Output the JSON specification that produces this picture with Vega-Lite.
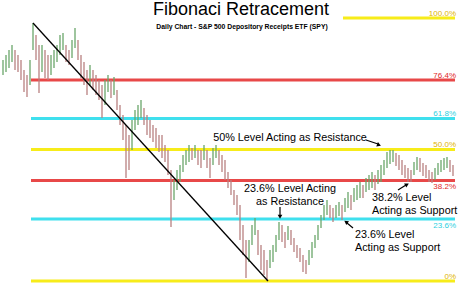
{
"$schema":"https://vega.github.io/schema/vega-lite/v6.json",
"width":460,"height":295,"padding":0,"autosize":{"type":"none"},
"background":"white",
"config":{"view":{"stroke":null},"text":{"font":"Liberation Sans"}},
"datasets":{
"bars":[
{"d":3,"p":143.3,"p2":138.8,"dir":"up"},{"d":6,"p":144.8,"p2":139.7,"dir":"up"},{"d":9,"p":146.3,"p2":140.9,"dir":"up"},{"d":12,"p":147.8,"p2":142.7,"dir":"up"},{"d":15,"p":146.3,"p2":140.3,"dir":"down"},{"d":18,"p":144.8,"p2":139.7,"dir":"down"},{"d":21,"p":143.3,"p2":137.3,"dir":"down"},{"d":24,"p":140.3,"p2":133.7,"dir":"down"},{"d":27,"p":138.8,"p2":132.2,"dir":"down"},{"d":30,"p":143.3,"p2":135.8,"dir":"up"},
{"d":33,"p":154.4,"p2":146.3,"dir":"up"},{"d":36,"p":150.8,"p2":143.3,"dir":"down"},{"d":39,"p":147.8,"p2":133.4,"dir":"down"},{"d":42,"p":147.8,"p2":139.7,"dir":"up"},{"d":45,"p":146.3,"p2":137.9,"dir":"down"},{"d":48,"p":144.8,"p2":137.3,"dir":"down"},{"d":51,"p":144.8,"p2":138.8,"dir":"up"},{"d":54,"p":146.3,"p2":140.9,"dir":"up"},{"d":57,"p":147.8,"p2":142.7,"dir":"up"},{"d":60,"p":150.8,"p2":144.8,"dir":"up"},
{"d":63,"p":151.4,"p2":146.3,"dir":"up"},{"d":66,"p":147.8,"p2":142.7,"dir":"down"},{"d":69,"p":146.3,"p2":141.8,"dir":"down"},{"d":72,"p":149.3,"p2":143.9,"dir":"up"},{"d":75,"p":152.9,"p2":146.9,"dir":"up"},{"d":78,"p":149.3,"p2":143.3,"dir":"down"},{"d":81,"p":144.8,"p2":137.9,"dir":"down"},{"d":84,"p":142.7,"p2":135.8,"dir":"down"},{"d":87,"p":140.3,"p2":132.8,"dir":"down"},{"d":90,"p":141.8,"p2":135.8,"dir":"up"},
{"d":93,"p":140.3,"p2":134.3,"dir":"down"},{"d":96,"p":138.8,"p2":132.8,"dir":"down"},{"d":99,"p":137.3,"p2":131.3,"dir":"down"},{"d":102,"p":135.8,"p2":125.9,"dir":"down"},{"d":105,"p":137.3,"p2":129.8,"dir":"up"},{"d":108,"p":138.8,"p2":133.7,"dir":"up"},{"d":111,"p":137.3,"p2":131.9,"dir":"down"},{"d":114,"p":138.2,"p2":132.8,"dir":"up"},{"d":117,"p":134.3,"p2":128.3,"dir":"down"},{"d":120,"p":129.8,"p2":123.8,"dir":"down"},
{"d":123,"p":126.8,"p2":119.3,"dir":"down"},{"d":126,"p":123.8,"p2":107.9,"dir":"down"},{"d":129,"p":120.8,"p2":110.3,"dir":"down"},{"d":132,"p":125.3,"p2":116.3,"dir":"up"},{"d":135,"p":128.3,"p2":122.3,"dir":"up"},{"d":138,"p":129.8,"p2":123.8,"dir":"up"},{"d":141,"p":131.3,"p2":125.9,"dir":"up"},{"d":144,"p":128.9,"p2":123.8,"dir":"down"},{"d":147,"p":126.8,"p2":120.8,"dir":"down"},{"d":150,"p":125.3,"p2":119.9,"dir":"down"},
{"d":153,"p":123.8,"p2":118.7,"dir":"down"},{"d":156,"p":122.9,"p2":116.9,"dir":"down"},{"d":159,"p":120.8,"p2":115.7,"dir":"down"},{"d":162,"p":120.8,"p2":113.9,"dir":"down"},{"d":165,"p":117.8,"p2":112.7,"dir":"down"},{"d":168,"p":116.3,"p2":108.8,"dir":"down"},{"d":171,"p":110.3,"p2":93.2,"dir":"down"},{"d":174,"p":107.3,"p2":101.3,"dir":"up"},{"d":177,"p":110.3,"p2":104.3,"dir":"up"},{"d":180,"p":111.8,"p2":106.7,"dir":"up"},
{"d":183,"p":114.8,"p2":109.7,"dir":"up"},{"d":186,"p":116.3,"p2":111.8,"dir":"up"},{"d":189,"p":117.8,"p2":112.7,"dir":"up"},{"d":192,"p":116.9,"p2":113.3,"dir":"down"},{"d":195,"p":117.8,"p2":113.9,"dir":"up"},{"d":198,"p":116.3,"p2":111.8,"dir":"down"},{"d":201,"p":116.3,"p2":110.9,"dir":"down"},{"d":204,"p":117.8,"p2":113.3,"dir":"up"},{"d":207,"p":116.3,"p2":110.9,"dir":"down"},{"d":210,"p":113.9,"p2":107.9,"dir":"down"},
{"d":213,"p":116.9,"p2":111.8,"dir":"up"},{"d":216,"p":117.8,"p2":113.9,"dir":"up"},{"d":219,"p":116.3,"p2":111.8,"dir":"down"},{"d":222,"p":114.8,"p2":109.7,"dir":"down"},{"d":225,"p":113.3,"p2":107.3,"dir":"down"},{"d":228,"p":109.7,"p2":104.9,"dir":"down"},{"d":231,"p":107.3,"p2":102.8,"dir":"down"},{"d":234,"p":104.3,"p2":99.8,"dir":"down"},{"d":237,"p":102.8,"p2":96.8,"dir":"down"},{"d":240,"p":99.8,"p2":89.3,"dir":"down"},
{"d":243,"p":93.8,"p2":84.8,"dir":"down"},{"d":246,"p":89.3,"p2":77.9,"dir":"down"},{"d":249,"p":89.3,"p2":82.7,"dir":"up"},{"d":252,"p":93.8,"p2":87.8,"dir":"up"},{"d":255,"p":95.9,"p2":90.8,"dir":"up"},{"d":258,"p":92.3,"p2":84.8,"dir":"down"},{"d":261,"p":87.8,"p2":80.3,"dir":"down"},{"d":264,"p":86.3,"p2":78.8,"dir":"down"},{"d":267,"p":83.3,"p2":77.0,"dir":"down"},{"d":270,"p":86.3,"p2":80.9,"dir":"up"},
{"d":273,"p":87.8,"p2":82.7,"dir":"up"},{"d":276,"p":90.8,"p2":85.7,"dir":"up"},{"d":279,"p":94.7,"p2":89.3,"dir":"up"},{"d":282,"p":93.8,"p2":88.7,"dir":"down"},{"d":285,"p":91.7,"p2":86.9,"dir":"down"},{"d":288,"p":93.5,"p2":89.3,"dir":"up"},{"d":291,"p":92.3,"p2":87.8,"dir":"down"},{"d":294,"p":89.9,"p2":85.7,"dir":"down"},{"d":297,"p":87.8,"p2":83.9,"dir":"down"},{"d":300,"p":86.9,"p2":82.7,"dir":"down"},
{"d":303,"p":84.8,"p2":79.7,"dir":"down"},{"d":306,"p":83.3,"p2":79.1,"dir":"down"},{"d":309,"p":86.3,"p2":81.8,"dir":"up"},{"d":312,"p":88.7,"p2":83.9,"dir":"up"},{"d":315,"p":90.8,"p2":86.9,"dir":"up"},{"d":318,"p":93.8,"p2":89.3,"dir":"up"},{"d":321,"p":96.8,"p2":92.9,"dir":"up"},{"d":324,"p":99.8,"p2":95.3,"dir":"up"},{"d":327,"p":101.3,"p2":96.8,"dir":"up"},{"d":330,"p":99.8,"p2":95.9,"dir":"down"},
{"d":333,"p":98.9,"p2":94.7,"dir":"down"},{"d":336,"p":99.8,"p2":95.9,"dir":"up"},{"d":339,"p":100.7,"p2":96.5,"dir":"up"},{"d":342,"p":99.8,"p2":95.3,"dir":"down"},{"d":345,"p":101.9,"p2":97.7,"dir":"up"},{"d":348,"p":103.7,"p2":98.9,"dir":"up"},{"d":351,"p":102.8,"p2":98.3,"dir":"down"},{"d":354,"p":104.9,"p2":100.7,"dir":"up"},{"d":357,"p":105.8,"p2":101.3,"dir":"up"},{"d":360,"p":106.7,"p2":101.9,"dir":"up"},
{"d":363,"p":105.8,"p2":101.9,"dir":"down"},{"d":366,"p":107.9,"p2":103.7,"dir":"up"},{"d":369,"p":108.8,"p2":104.3,"dir":"up"},{"d":372,"p":109.7,"p2":104.9,"dir":"up"},{"d":375,"p":108.8,"p2":104.3,"dir":"down"},{"d":378,"p":110.3,"p2":106.1,"dir":"up"},{"d":381,"p":111.8,"p2":106.7,"dir":"up"},{"d":384,"p":113.3,"p2":108.8,"dir":"up"},{"d":387,"p":115.7,"p2":110.9,"dir":"up"},{"d":390,"p":116.3,"p2":112.1,"dir":"up"},
{"d":393,"p":116.3,"p2":112.7,"dir":"up"},{"d":396,"p":115.4,"p2":111.5,"dir":"down"},{"d":399,"p":114.8,"p2":110.3,"dir":"down"},{"d":402,"p":113.3,"p2":108.8,"dir":"down"},{"d":405,"p":111.8,"p2":107.9,"dir":"down"},{"d":408,"p":110.9,"p2":106.7,"dir":"down"},{"d":411,"p":110.3,"p2":106.7,"dir":"down"},{"d":414,"p":112.7,"p2":108.8,"dir":"up"},{"d":417,"p":114.2,"p2":110.3,"dir":"up"},{"d":420,"p":113.9,"p2":109.7,"dir":"down"},
{"d":423,"p":112.4,"p2":108.5,"dir":"down"},{"d":426,"p":111.8,"p2":107.9,"dir":"down"},{"d":429,"p":110.3,"p2":106.7,"dir":"down"},{"d":432,"p":109.7,"p2":106.4,"dir":"down"},{"d":435,"p":110.9,"p2":107.3,"dir":"up"},{"d":438,"p":112.4,"p2":108.8,"dir":"up"},{"d":441,"p":113.3,"p2":109.7,"dir":"up"},{"d":444,"p":113.9,"p2":110.3,"dir":"up"},{"d":447,"p":114.2,"p2":110.9,"dir":"up"},{"d":450,"p":113.3,"p2":109.7,"dir":"down"},
{"d":453,"p":111.8,"p2":108.5,"dir":"down"}
],
"fib":[
{"level":"0%","p":77.0,"d":31,"d2":455},
{"level":"23.6%","p":95.62,"d":31,"d2":455},
{"level":"38.2%","p":107.14,"d":31,"d2":455},
{"level":"50.0%","p":116.45,"d":31,"d2":455},
{"level":"61.8%","p":125.76,"d":31,"d2":455},
{"level":"76.4%","p":137.28,"d":31,"d2":455},
{"level":"100.0%","p":155.9,"d":343,"d2":455}
],
"labels":[
{"level":"100.0%","d":456,"p":157.1},
{"level":"76.4%","d":456,"p":138.5},
{"level":"61.8%","d":456,"p":127.1},
{"level":"50.0%","d":456,"p":117.8},
{"level":"38.2%","d":456,"p":105.2},
{"level":"23.6%","d":456,"p":93.5},
{"level":"0%","d":456,"p":78.2}
],
"trend":[{"d":33,"p":154.4,"d2":268,"p2":77.0}],
"notesCenter":[
{"text":"50% Level Acting as Resistance","d":290,"p":119.9},
{"text":"23.6% Level Acting","d":290,"p":104.6},
{"text":"as Resistance","d":290,"p":100.7}
],
"notesLeft":[
{"text":"38.2% Level","d":372,"p":101.9},
{"text":"Acting as Support","d":372,"p":98.0},
{"text":"23.6% Level","d":355,"p":90.8},
{"text":"Acting as Support","d":355,"p":86.9}
],
"arrows":[
{"d":366,"p":119.3,"d2":378,"p2":118.1,"hd":379,"hp":117.8,"heading":111},
{"d":280,"p":99.2,"d2":280,"p2":96.5,"hd":280,"hp":96.3,"heading":180},
{"d":398,"p":104.3,"d2":406,"p2":105.8,"hd":407,"hp":105.95,"heading":61},
{"d":353,"p":92.9,"d2":347,"p2":94.4,"hd":346,"hp":94.7,"heading":305}
],
"titles":[{"text":"Fibonaci Retracement","d":241,"p":158.2}],
"subtitles":[{"text":"Daily Chart - S&P 500 Depository Receipts ETF (SPY)","d":242,"p":153.2}]
},
"encoding":{
"x":{"field":"d","type":"quantitative","scale":{"domain":[0,460],"nice":false,"zero":false},"axis":null},
"y":{"field":"p","type":"quantitative","scale":{"domain":[72.8,161.3],"nice":false,"zero":false},"axis":null}
},
"layer":[
{"data":{"name":"fib"},"mark":{"type":"rule","strokeWidth":3},
 "encoding":{"x2":{"field":"d2"},"y2":{"field":"p"},
 "color":{"field":"level","type":"nominal","legend":null,"scale":{"domain":["0%","23.6%","38.2%","50.0%","61.8%","76.4%","100.0%"],"range":["#f7ec1a","#3fe0ee","#e84848","#f7ec1a","#3fe0ee","#e84848","#f7ec1a"]}}}},
{"data":{"name":"bars"},"mark":{"type":"rule","strokeWidth":1.3},
 "encoding":{"y2":{"field":"p2"},
 "color":{"field":"dir","type":"nominal","legend":null,"scale":{"domain":["up","down"],"range":["#6aa66a","#b98080"]}}}},
{"data":{"name":"trend"},"mark":{"type":"rule","strokeWidth":1.3,"color":"black"},
 "encoding":{"x2":{"field":"d2"},"y2":{"field":"p2"}}},
{"data":{"name":"labels"},"mark":{"type":"text","align":"right","baseline":"middle","fontSize":8},
 "encoding":{"text":{"field":"level"},
 "color":{"field":"level","type":"nominal","legend":null,"scale":{"domain":["0%","23.6%","38.2%","50.0%","61.8%","76.4%","100.0%"],"range":["#e0b400","#2ccfe0","#e02828","#e0b400","#2ccfe0","#e02828","#e0b400"]}}}},
{"data":{"name":"titles"},"mark":{"type":"text","align":"center","baseline":"middle","fontSize":18,"color":"black"},
 "encoding":{"text":{"field":"text"}}},
{"data":{"name":"subtitles"},"mark":{"type":"text","align":"center","baseline":"middle","fontSize":6.8,"fontWeight":"bold","color":"black"},
 "encoding":{"text":{"field":"text"}}},
{"data":{"name":"notesCenter"},"mark":{"type":"text","align":"center","baseline":"middle","fontSize":10.8,"color":"black"},
 "encoding":{"text":{"field":"text"}}},
{"data":{"name":"notesLeft"},"mark":{"type":"text","align":"left","baseline":"middle","fontSize":10.8,"color":"black"},
 "encoding":{"text":{"field":"text"}}},
{"data":{"name":"arrows"},"mark":{"type":"rule","strokeWidth":1.2,"color":"black"},
 "encoding":{"x2":{"field":"d2"},"y2":{"field":"p2"}}},
{"data":{"name":"arrows"},"mark":{"type":"point","shape":"triangle-up","filled":true,"size":22,"color":"black","opacity":1},
 "encoding":{"x":{"field":"hd","type":"quantitative"},"y":{"field":"hp","type":"quantitative"},"angle":{"field":"heading","type":"quantitative","scale":null}}}
],
"resolve":{"scale":{"color":"independent"}}
}
